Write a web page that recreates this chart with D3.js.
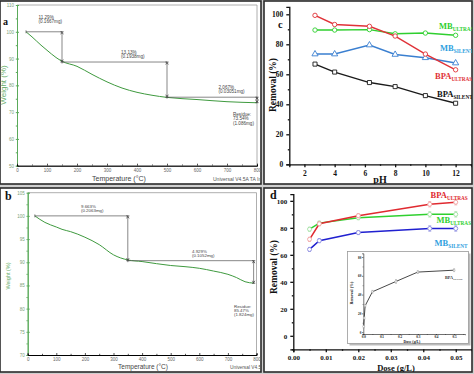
<!DOCTYPE html>
<html><head><meta charset="utf-8">
<script src="https://cdn.jsdelivr.net/npm/d3@7/dist/d3.min.js"></script>
<style>
body{margin:0;background:#cfcfcf;}
svg{display:block;}
text{font-family:"Liberation Sans",Arial,sans-serif;}
.sf{font-family:"Liberation Serif","Times New Roman",serif;font-weight:bold;}
</style></head><body>
<script>
// ---- panel a : TGA ----
var tgaATemp = [30, 50, 80, 100, 130, 150, 200, 250, 300, 350, 400, 450, 500, 600, 700, 800];
var tgaAWt   = [100, 98.1, 95, 93.1, 90.4, 89.0, 87.1, 84.1, 81.3, 79.0, 77.4, 76.3, 75.5, 74.7, 73.9, 73.5];
var stepsATemp = [30, 150, 500, 800];
var stepsALevel = [100, 88.71, 75.58, 73.54];
var stepsAText = [["11.29%", "(0.1667mg)"], ["13.13%", "(0.1938mg)"], ["2.067%", "(0.03051mg)"]];
var residueA = ["Residue:", "73.54%", "(1.086mg)"];

// ---- panel b : TGA ----
var tgaBTemp = [25, 60, 100, 120, 150, 200, 250, 300, 350, 400, 450, 500, 550, 600, 650, 700, 730, 760, 790];
var tgaBWt   = [100, 98.6, 97.6, 97.1, 96.6, 95.4, 93.8, 91.6, 90.5, 90.15, 89.7, 89.3, 89.05, 88.7, 88.1, 87.4, 86.7, 85.8, 85.5];
var stepsBTemp = [25, 350, 790];
var stepsBLevel = [100, 90.34, 85.47];
var stepsBText = [["9.663%", "(0.2063mg)"], ["4.929%", "(0.1052mg)"]];
var residueB = ["Residue:", "85.47%", "(1.824mg)"];

// ---- panel c : removal vs pH ----
var pH = [2.7, 4, 6.3, 8, 10, 12];
var bpaUltrasPH = [99.3, 93.2, 92, 85.5, 73.5, 63];
var mbUltrasPH  = [89.5, 89.5, 89.8, 87, 87.5, 86];
var mbSilentPH  = [73.5, 73.5, 79.5, 73.2, 71, 67.5];
var bpaSilentPH = [66.8, 61.5, 54.5, 51.8, 45.8, 40.7];

// ---- panel d : removal vs dose ----
var dose = [0.005, 0.008, 0.02, 0.042, 0.05];
var bpaUltrasDose = [71.5, 83, 89, 97.5, 99];
var mbUltrasDose  = [79, 83.5, 87.5, 90, 90];
var mbSilentDose  = [64, 70.5, 76.5, 79.5, 79.5];
var doseErr = [1.5, 1.5, 1.5, 2, 2];
var insetDose = [0.002, 0.005, 0.01, 0.05, 0.18, 0.3, 0.5];
var bpaSilentDose = [6, 15, 28, 43, 54, 64, 66];
var insetErr = [1.5, 1.5, 1.5, 1.5, 2, 1.5, 1.5];

var W = 474, H = 374;
var svg = d3.select("body").append("svg").attr("width", W).attr("height", H);

var panels = [
  {id: "a", x: 0, y: 1, w: 261, h: 183},
  {id: "c", x: 264, y: 1, w: 208, h: 183},
  {id: "b", x: 0, y: 188, w: 261, h: 184},
  {id: "d", x: 264, y: 188, w: 208, h: 184}
];
var defs = svg.append("defs");
var P = {};
panels.forEach(function(p) {
  defs.append("clipPath").attr("id", "clip" + p.id)
    .append("rect").attr("x", p.x).attr("y", p.y).attr("width", p.w).attr("height", p.h);
  svg.append("rect").attr("x", p.x).attr("y", p.y).attr("width", p.w).attr("height", p.h)
    .attr("fill", "#fff").attr("stroke", "#2b2b2b").attr("stroke-width", 1.6);
  P[p.id] = svg.append("g").attr("clip-path", "url(#clip" + p.id + ")");
});

// ---------- TGA helper ----------
function tga(g, o) {
  var x = d3.scaleLinear().domain([0, 800]).range(o.xr);
  var y = d3.scaleLinear().domain(o.yd).range(o.yr);
  var green = "#5aaa5a";
  // frame
  g.append("path").attr("d", "M" + o.xr[0] + "," + o.yr[1] + "H" + o.xr[1] + "V" + o.yr[0])
    .attr("fill", "none").attr("stroke", "#9a9a9a").attr("stroke-width", 0.8);
  // y axis
  var ya = g.append("g").attr("transform", "translate(" + o.xr[0] + ",0)")
    .call(d3.axisLeft(y).tickValues(d3.range(o.yd[0], o.yd[1] + 0.1, o.ystep)).tickSize(-2).tickPadding(3));
  ya.select(".domain").attr("stroke", green).attr("stroke-width", 1);
  ya.selectAll(".tick line").attr("stroke", green);
  ya.selectAll("text").attr("fill", "#7aa07a").attr("font-size", o.tf);
  g.append("g").attr("transform", "translate(" + o.xr[0] + ",0)")
    .call(d3.axisLeft(y).tickValues(d3.range(o.yd[0], o.yd[1], o.ystep / 2)).tickSize(1.2).tickFormat(""))
    .selectAll("line,path").attr("stroke", green);
  // x axis
  var xa = g.append("g").attr("transform", "translate(0," + o.yr[0] + ")")
    .call(d3.axisBottom(x).tickValues(d3.range(0, 801, 100)).tickSize(-2).tickPadding(3));
  xa.select(".domain").attr("stroke", "#555").attr("stroke-width", 0.8);
  xa.selectAll(".tick line").attr("stroke", "#555");
  xa.selectAll("text").attr("fill", "#666").attr("font-size", o.tf);
  g.append("g").attr("transform", "translate(0," + o.yr[0] + ")")
    .call(d3.axisBottom(x).tickValues(d3.range(50, 800, 100)).tickSize(-1.2).tickFormat(""))
    .selectAll("line").attr("stroke", "#555");
  // curve
  var line = d3.line().x(function(d) { return x(d[0]); }).y(function(d) { return y(d[1]); }).curve(d3.curveMonotoneX);
  g.append("path").datum(d3.zip(o.temp, o.wt)).attr("d", line)
    .attr("fill", "none").attr("stroke", "#3f9a3f").attr("stroke-width", 1);
  // step annotations
  var st = o.stepT, sl = o.stepL;
  for (var i = 0; i < st.length - 1; i++) {
    var x0 = x(st[i]), x1 = x(st[i + 1]), y0 = y(sl[i]), y1 = y(sl[i + 1]);
    g.append("path").attr("d", "M" + x0 + "," + y0 + "H" + x1 + "V" + y1)
      .attr("fill", "none").attr("stroke", "#555").attr("stroke-width", 0.7);
    g.append("path").attr("d", "M" + (x0) + "," + (y0 - 1.5) + "V" + (y0 + 1.5))
      .attr("stroke", "#555").attr("stroke-width", 0.7);
    [y0 + 1, y1 - 1].forEach(function(yy, k) {
      var s = k === 0 ? 1 : -1;
      g.append("path").attr("d", "M" + (x1 - 1.6) + "," + (yy - s * 1) + "H" + (x1 + 1.6) + "M" + (x1 - 1.3) + "," + (yy + s * 1.5) + "L" + x1 + "," + (yy - s * 0.5) + "L" + (x1 + 1.3) + "," + (yy + s * 1.5))
        .attr("fill", "none").attr("stroke", "#333").attr("stroke-width", 0.7);
    });
    var tx = o.textPos[i];
    g.append("text").attr("x", tx[0]).attr("y", tx[1]).attr("font-size", o.af).attr("fill", "#444")
      .selectAll("tspan").data(o.stepText[i]).enter().append("tspan")
      .attr("x", tx[0]).attr("dy", function(d, j) { return j ? o.af * 0.95 : 0; }).text(function(d) { return d; });
  }
  g.append("text").attr("x", o.resPos[0]).attr("y", o.resPos[1]).attr("font-size", o.af).attr("fill", "#444")
    .selectAll("tspan").data(o.residue).enter().append("tspan")
    .attr("x", o.resPos[0]).attr("dy", function(d, j) { return j ? o.af * 0.95 : 0; }).text(function(d) { return d; });
  // labels
  g.append("text").attr("x", o.xl[0]).attr("y", o.xl[1]).attr("text-anchor", "middle")
    .attr("font-size", o.xlf).attr("fill", "#444").text("Temperature (°C)");
  g.append("text").attr("x", o.uni[0]).attr("y", o.uni[1]).attr("font-size", o.uf).attr("fill", "#555")
    .text("Universal V4.5A TA Instruments");
  g.append("text").attr("transform", "translate(" + o.yl[0] + "," + o.yl[1] + ") rotate(-90)")
    .attr("text-anchor", "middle").attr("font-size", o.ylf).attr("fill", "#6aae6a").text("Weight (%)");
  g.append("text").attr("class", "sf").attr("x", o.pl[0]).attr("y", o.pl[1]).attr("font-size", o.plf)
    .attr("fill", "#111").text(o.id);
}

tga(P.a, {
  id: "a", xr: [17, 257], yd: [50, 110], yr: [165.7, 5], ystep: 10, tf: 4.5,
  temp: tgaATemp, wt: tgaAWt, stepT: stepsATemp, stepL: stepsALevel, stepText: stepsAText,
  textPos: [[38.5, 19], [121, 54], [218.5, 88.5]], residue: residueA, resPos: [233, 116], af: 4.6,
  xl: [119, 180.5], xlf: 7, uni: [213, 180.5], uf: 5, yl: [6, 85], ylf: 8, pl: [3, 25], plf: 10
});
tga(P.b, {
  id: "b", xr: [27.7, 256.5], yd: [70, 105], yr: [355, 192.7], ystep: 5, tf: 4.5,
  temp: tgaBTemp, wt: tgaBWt, stepT: stepsBTemp, stepL: stepsBLevel, stepText: stepsBText,
  textPos: [[81, 207.5], [192, 252.5]], residue: residueB, resPos: [234, 308], af: 4.4,
  xl: [143, 369], xlf: 6.5, uni: [230, 369], uf: 4.8, yl: [10, 276], ylf: 5.5, pl: [5, 200], plf: 12
});

// ---------- Origin style helpers ----------
function origAxes(g, x, y, o) {
  var xa = g.append("g").attr("transform", "translate(0," + o.x0 + ")")
    .call(d3.axisBottom(x).tickValues(o.xt).tickSize(o.ts).tickPadding(o.tp).tickFormat(o.xf));
  xa.selectAll("text").attr("class", "sf").attr("font-size", o.tf).attr("fill", "#111");
  g.append("g").attr("transform", "translate(0," + o.x0 + ")")
    .call(d3.axisBottom(x).tickValues(o.xm).tickSize(o.ts / 2).tickFormat(""))
    .select(".domain").remove();
  var ya = g.append("g").attr("transform", "translate(" + o.y0 + ",0)")
    .call(d3.axisLeft(y).tickValues(o.yt).tickSize(o.ts).tickPadding(o.tp));
  ya.selectAll("text").attr("class", "sf").attr("font-size", o.tf).attr("fill", "#111");
  g.append("g").attr("transform", "translate(" + o.y0 + ",0)")
    .call(d3.axisLeft(y).tickValues(o.ym).tickSize(o.ts / 2).tickFormat(""))
    .select(".domain").remove();
  g.selectAll(".domain,.tick line").attr("stroke", "#111").attr("stroke-width", o.sw);
}

function marker(g, type, cx, cy, r, col) {
  if (type === "circle") {
    g.append("circle").attr("cx", cx).attr("cy", cy).attr("r", r)
      .attr("fill", "#fff").attr("stroke", col).attr("stroke-width", 0.9);
  } else {
    var sym = d3.symbol().type(type === "square" ? d3.symbolSquare : d3.symbolTriangle).size(r * r * 3.4);
    g.append("path").attr("d", sym()).attr("transform", "translate(" + cx + "," + cy + ")")
      .attr("fill", "#fff").attr("stroke", col).attr("stroke-width", 0.9);
  }
}

function seriesLabel(g, x, y, main, sub, col, f) {
  var t = g.append("text").attr("class", "sf").attr("x", x).attr("y", y).attr("fill", col).attr("font-size", f);
  t.append("tspan").text(main);
  t.append("tspan").attr("font-size", f * 0.62).attr("dy", f * 0.28).text(sub);
}

// ---------- panel c ----------
var gc = P.c;
var xc = d3.scaleLinear().domain([1, 13.05]).range([289.3, 471.5]);
var yc = d3.scaleLinear().domain([0, 105]).range([164.3, 6.8]);
origAxes(gc, xc, yc, {
  x0: 164.3, y0: 289.3, xt: [2, 4, 6, 8, 10, 12], xm: [1, 3, 5, 7, 9, 11, 13],
  yt: [0, 20, 40, 60, 80, 100], ym: [10, 30, 50, 70, 90], ts: 3, tp: 3, tf: 7.5, sw: 1.3,
  xf: d3.format("d")
});
var seriesC = [
  {v: mbUltrasPH, col: "#2fcf2f", m: "circle"},
  {v: bpaSilentPH, col: "#1a1a1a", m: "square"},
  {v: mbSilentPH, col: "#3a7fd0", m: "triangle"},
  {v: bpaUltrasPH, col: "#e03238", m: "circle"}
];
seriesC.forEach(function(s) {
  var line = d3.line().x(function(d, i) { return xc(pH[i]); }).y(function(d) { return yc(d); });
  gc.append("path").datum(s.v).attr("d", line).attr("fill", "none").attr("stroke", s.col).attr("stroke-width", 1.4);
  s.v.forEach(function(d, i) { marker(gc, s.m, xc(pH[i]), yc(d), 2.2, s.col); });
});
seriesLabel(gc, 439, 29, "MB", "ULTRAS", "#2fcf2f", 8.5);
seriesLabel(gc, 440, 51, "MB", "SILENT", "#2f9fe0", 8.5);
seriesLabel(gc, 435, 79, "BPA", "ULTRAS", "#e03238", 8.5);
seriesLabel(gc, 437, 96.5, "BPA", "SILENT", "#111", 8.5);
gc.append("text").attr("class", "sf").attr("x", 380).attr("y", 183).attr("text-anchor", "middle")
  .attr("font-size", 10).attr("fill", "#111").text("pH");
gc.append("text").attr("class", "sf").attr("transform", "translate(276,85) rotate(-90)")
  .attr("text-anchor", "middle").attr("font-size", 9.5).attr("fill", "#111").text("Removal (%)");
gc.append("text").attr("class", "sf").attr("x", 278).attr("y", 28).attr("font-size", 10.5).attr("fill", "#111").text("c");

// ---------- panel d ----------
var gd = P.d;
var xd = d3.scaleLinear().domain([0, 0.055]).range([293.3, 472]);
var yd = d3.scaleLinear().domain([-10, 105]).range([349.3, 194.1]);
origAxes(gd, xd, yd, {
  x0: 349.3, y0: 293.3, xt: [0, 0.01, 0.02, 0.03, 0.04, 0.05], xm: [0.005, 0.015, 0.025, 0.035, 0.045, 0.055],
  yt: [0, 20, 40, 60, 80, 100], ym: [-10, 10, 30, 50, 70, 90], ts: 3, tp: 3, tf: 7, sw: 1.3,
  xf: d3.format(".2f")
});
var seriesD = [
  {v: mbSilentDose, col: "#2020d0", mc: "#8a8ae0"},
  {v: mbUltrasDose, col: "#30d030", mc: "#a0e0a0"},
  {v: bpaUltrasDose, col: "#e02a30", mc: "#f0a0a0"}
];
seriesD.forEach(function(s) {
  var line = d3.line().x(function(d, i) { return xd(dose[i]); }).y(function(d) { return yd(d); });
  gd.append("path").datum(s.v).attr("d", line).attr("fill", "none").attr("stroke", s.col).attr("stroke-width", 1.5);
  s.v.forEach(function(d, i) {
    var cx = xd(dose[i]), t = yd(d + doseErr[i]), b = yd(d - doseErr[i]);
    gd.append("path").attr("d", "M" + cx + "," + t + "V" + b + "M" + (cx - 1.5) + "," + t + "h3M" + (cx - 1.5) + "," + b + "h3")
      .attr("stroke", s.mc).attr("stroke-width", 0.7);
    marker(gd, "circle", cx, yd(d), 2, s.mc);
  });
});
seriesLabel(gd, 430.5, 198, "BPA", "ULTRAS", "#e02a30", 8.5);
seriesLabel(gd, 436.5, 223, "MB", "ULTRAS", "#30d030", 8.5);
seriesLabel(gd, 434.5, 246, "MB", "SILENT", "#2f9fe0", 8.5);
gd.append("text").attr("class", "sf").attr("x", 396).attr("y", 371).attr("text-anchor", "middle")
  .attr("font-size", 8.5).attr("fill", "#111").text("Dose (g/L)");
gd.append("text").attr("class", "sf").attr("transform", "translate(277,267) rotate(-90)")
  .attr("text-anchor", "middle").attr("font-size", 9.5).attr("fill", "#111").text("Removal (%)");
gd.append("text").attr("class", "sf").attr("x", 270).attr("y", 199).attr("font-size", 12).attr("fill", "#111").text("d");

// inset
gd.append("rect").attr("x", 349.5).attr("y", 253.5).attr("width", 121).attr("height", 92)
  .attr("fill", "#bbb");
gd.append("rect").attr("x", 347.5).attr("y", 251.5).attr("width", 121).attr("height", 92)
  .attr("fill", "#fff").attr("stroke", "#999").attr("stroke-width", 0.8);
var gi = gd.append("g");
var xi = d3.scaleLinear().domain([0, 0.56]).range([363.3, 465]);
var yi = d3.scaleLinear().domain([-2, 84]).range([334, 253.3]);
origAxes(gi, xi, yi, {
  x0: 334, y0: 363.3, xt: [0, 0.1, 0.2, 0.3, 0.4, 0.5], xm: [0.05, 0.15, 0.25, 0.35, 0.45, 0.55],
  yt: [0, 20, 40, 60, 80], ym: [10, 30, 50, 70], ts: 1.2, tp: 0.8, tf: 3.3, sw: 0.6,
  xf: d3.format(".1f")
});
var lineI = d3.line().x(function(d, i) { return xi(insetDose[i]); }).y(function(d) { return yi(d); });
gi.append("path").datum(bpaSilentDose).attr("d", lineI).attr("fill", "none").attr("stroke", "#333").attr("stroke-width", 0.9);
bpaSilentDose.forEach(function(d, i) {
  var cx = xi(insetDose[i]), t = yi(d + insetErr[i]), b = yi(d - insetErr[i]);
  gi.append("path").attr("d", "M" + cx + "," + t + "V" + b + "M" + (cx - 1) + "," + t + "h2M" + (cx - 1) + "," + b + "h2")
    .attr("stroke", "#999").attr("stroke-width", 0.5);
  gi.append("circle").attr("cx", cx).attr("cy", yi(d)).attr("r", 1).attr("fill", "#fff").attr("stroke", "#999").attr("stroke-width", 0.5);
});
seriesLabel(gi, 445, 279, "BPA", "SILENT", "#333", 4.2);
gi.append("text").attr("class", "sf").attr("x", 412).attr("y", 343.3).attr("text-anchor", "middle")
  .attr("font-size", 3.8).attr("fill", "#111").text("Dose (g/L)");
gi.append("text").attr("class", "sf").attr("transform", "translate(353,293) rotate(-90)")
  .attr("text-anchor", "middle").attr("font-size", 4).attr("fill", "#111").text("Removal (%)");
</script>
</body></html>
